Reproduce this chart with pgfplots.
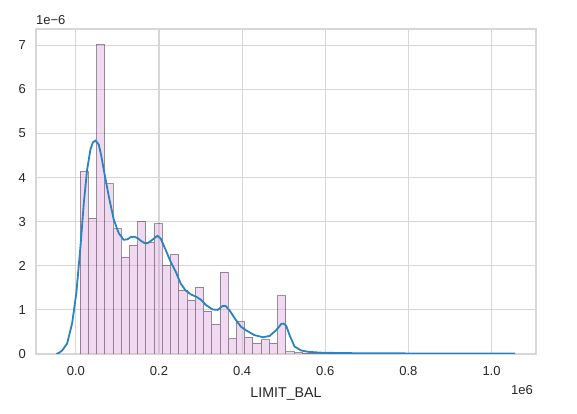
\documentclass[border=0pt]{standalone}
\usepackage{fontspec}
\setmainfont{Liberation Sans}
\usepackage{pgfplots}
\pgfplotsset{compat=1.18}
\definecolor{gridc}{HTML}{D6D6D6}
\definecolor{tickc}{HTML}{262626}
\definecolor{kdec}{RGB}{44,129,193}
\definecolor{barfill}{HTML}{DDA0DD}
\begin{document}
\begin{tikzpicture}
\path[use as bounding box] (0,0) rectangle (577pt,414pt);
\begin{axis}[
  name=ax,
  at={(36pt,60pt)}, anchor=south west,
  scale only axis, width=500pt, height=325pt,
  xmin=-0.096, xmax=1.107, ymin=0, ymax=7.37,
  xtick={0,0.2,0.4,0.6,0.8,1.0}, ytick={0,1,2,3,4,5,6,7},
  grid=major, major grid style={draw=gridc, line width=1.1pt},
  axis line style={draw=gridc, line width=1.2pt},
  major tick length=0pt,
  tick style={draw=none},
  ticklabel style={font=\fontsize{13}{15}\selectfont, text=tickc},
  /pgf/number format/assume math mode=true,
  xticklabel style={yshift=-8.5pt, /pgf/number format/fixed, /pgf/number format/fixed zerofill, /pgf/number format/precision=1},
  yticklabel style={xshift=-6.5pt},
  scaled ticks=false,
]
\addplot[ybar interval, fill=barfill, fill opacity=0.4, draw=black, draw opacity=0.4, line width=0.9pt] coordinates {
(0.0100,4.14) (0.0298,3.08) (0.0496,7.02) (0.0694,3.86) (0.0892,2.84)
(0.1090,2.20) (0.1288,2.47) (0.1486,3.01) (0.1684,2.53) (0.1882,2.95)
(0.2080,2.00) (0.2278,2.26) (0.2476,1.45) (0.2674,1.22) (0.2872,1.52)
(0.3070,0.97) (0.3268,0.67) (0.3466,1.86) (0.3664,0.35) (0.3862,0.73)
(0.4060,0.38) (0.4258,0.25) (0.4456,0.32) (0.4654,0.25) (0.4852,1.32)
(0.5050,0.05) (0.5248,0.03) (0.5446,0.02) (0.5644,0.01) (0.5842,0.008)
(0.6040,0.006) (0.6238,0.004) (0.6436,0.003) (0.6634,0.003) (0.6832,0.002)
(0.7030,0.002) (0.7228,0.002) (0.7426,0.002) (0.7624,0.002) (0.7822,0.002)
(0.8020,0.002) (0.8218,0.001) (0.8416,0.001) (0.8614,0.001) (0.8812,0.001)
(0.9010,0.001) (0.9208,0.001) (0.9406,0.001) (0.9604,0.001) (0.9802,0.002)
(1.0000,0)
};
\addplot[kdec, line width=1.8pt, no marks] coordinates {
(-0.047,0.00) (-0.040,0.03) (-0.033,0.08) (-0.021,0.24) (-0.009,0.70)
(0.001,1.38) (0.011,2.44) (0.019,3.42) (0.027,4.18) (0.035,4.64)
(0.041,4.80) (0.047,4.84) (0.055,4.75) (0.061,4.50) (0.067,4.18)
(0.079,3.58) (0.091,3.05) (0.103,2.74) (0.115,2.59) (0.124,2.60)
(0.132,2.65) (0.140,2.66) (0.148,2.63) (0.156,2.57) (0.164,2.52)
(0.172,2.51) (0.184,2.59) (0.196,2.68) (0.204,2.62) (0.216,2.36)
(0.228,2.09) (0.240,1.87) (0.252,1.60) (0.264,1.44) (0.277,1.35)
(0.289,1.30) (0.301,1.23) (0.313,1.11) (0.329,1.01) (0.341,1.00)
(0.353,1.09) (0.360,1.09) (0.369,1.00) (0.385,0.77) (0.397,0.62)
(0.409,0.54) (0.429,0.43) (0.450,0.38) (0.466,0.41) (0.482,0.54)
(0.494,0.68) (0.500,0.69) (0.506,0.64) (0.514,0.43) (0.526,0.17)
(0.542,0.08) (0.558,0.05) (0.590,0.03) (0.650,0.02) (0.750,0.015)
(0.900,0.01) (1.057,0.01)
};
\end{axis}
\node[anchor=base, yshift=-44pt, font=\fontsize{14.2}{17}\selectfont, text=tickc] at (ax.south) {LIMIT\_BAL};
\node[anchor=base east, inner sep=0pt, xshift=-3pt, yshift=-41pt, font=\fontsize{13}{15}\selectfont, text=tickc] at (ax.south east) {1e6};
\node[anchor=base west, inner sep=0pt, yshift=4pt, font=\fontsize{13}{15}\selectfont, text=tickc] at (ax.north west) {1e−6};
\end{tikzpicture}
\end{document}
